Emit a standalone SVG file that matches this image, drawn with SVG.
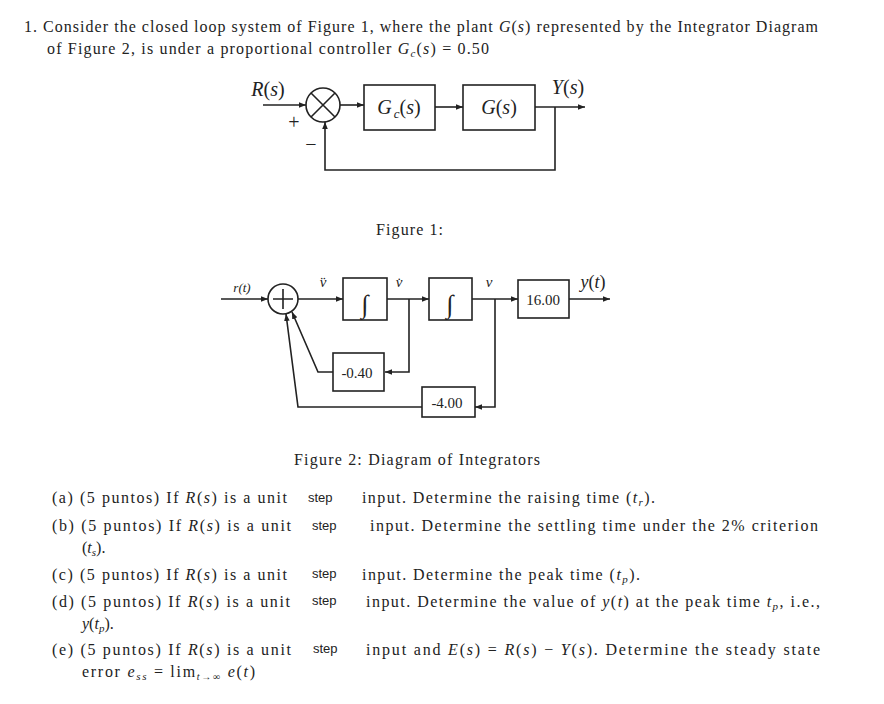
<svg xmlns="http://www.w3.org/2000/svg" width="884" height="704" viewBox="0 0 884 704">
<defs>
<marker id="ar" viewBox="0 0 10 10" refX="10" refY="5" markerWidth="7" markerHeight="7" orient="auto" markerUnits="userSpaceOnUse"><path d="M0,1 L10,5 L0,9 z" fill="#222"/></marker>
<style>
text{font-family:"Liberation Serif",serif;fill:#222}
.t{font-size:16px}
.s{font-family:"Liberation Sans",sans-serif;font-size:13px}
.b{fill:#fff;stroke:#222;stroke-width:1.6}
.l{fill:none;stroke:#222;stroke-width:1.6}
.a{marker-end:url(#ar)}
</style>
</defs>
<rect width="884" height="704" fill="#fff"/>
<text class="t" x="24" y="32" textLength="794">1.  Consider the closed loop system of Figure 1, where the plant <tspan font-style="italic">G</tspan>(<tspan font-style="italic">s</tspan>) represented by the Integrator Diagram</text>
<text class="t" x="47" y="54" textLength="442">of Figure 2, is under a proportional controller <tspan font-style="italic">G<tspan font-size="11" dy="3">c</tspan></tspan><tspan dy="-3">(</tspan><tspan font-style="italic">s</tspan>) = 0.50</text>

<g id="fig1">
<g id="sum1"><circle class="b" cx="323" cy="105" r="17"/><path class="l" d="M311,93 L335,117 M335,93 L311,117"/></g>
<g id="gc"><rect class="b" x="364" y="85" width="71" height="45"/><text x="399" y="114" font-size="20" text-anchor="middle" font-style="italic">G<tspan font-size="13" dy="4" dx="2">c</tspan><tspan dy="-4" font-style="normal">(</tspan>s<tspan font-style="normal">)</tspan></text></g>
<g id="g"><rect class="b" x="463" y="85" width="72" height="45"/><text x="499" y="114" font-size="20" text-anchor="middle"><tspan font-style="italic">G</tspan>(<tspan font-style="italic">s</tspan>)</text></g>
<text x="268" y="96" font-size="20" text-anchor="middle"><tspan font-style="italic">R</tspan>(<tspan font-style="italic">s</tspan>)</text>
<text x="568" y="94" font-size="20" text-anchor="middle"><tspan font-style="italic">Y</tspan>(<tspan font-style="italic">s</tspan>)</text>
<text x="294" y="129" font-size="20" text-anchor="middle">+</text>
<text x="311" y="151" font-size="20" text-anchor="middle">−</text>
</g>

<g id="fig2">
<g id="sum2"><circle class="b" cx="283" cy="299" r="15"/><path class="l" d="M273,299 H293 M283,289 V309" stroke-width="2.2"/></g>
<g id="int1"><rect class="b" x="343" y="278" width="44" height="42"/><text x="365" y="313" font-size="26" text-anchor="middle" font-style="italic">∫</text></g>
<g id="int2"><rect class="b" x="429" y="278" width="43" height="42"/><text x="450" y="313" font-size="26" text-anchor="middle" font-style="italic">∫</text></g>
<g id="k16"><rect class="b" x="518" y="280" width="51" height="38"/><text x="543" y="305" font-size="15" text-anchor="middle">16.00</text></g>
<g id="k04"><rect class="b" x="333" y="353" width="51" height="38"/><text x="357" y="378" font-size="15" text-anchor="middle">-0.40</text></g>
<g id="k4"><rect class="b" x="422" y="387" width="53" height="30"/><text x="447" y="408" font-size="15" text-anchor="middle">-4.00</text></g>
<text x="242" y="292" font-size="13" text-anchor="middle" font-style="italic">r(t)</text>
<text x="323" y="287" font-size="15" text-anchor="middle" font-style="italic">v̈</text>
<text x="399" y="287" font-size="15" text-anchor="middle" font-style="italic">v̇</text>
<text x="489" y="287" font-size="15" text-anchor="middle" font-style="italic">v</text>
<text x="593" y="288" font-size="18" text-anchor="middle"><tspan font-style="italic">y</tspan>(<tspan font-style="italic">t</tspan>)</text>
</g>

<g id="connectors">
<path class="l a" d="M263,105 H306"/>
<path class="l a" d="M340,105 H364"/>
<path class="l a" d="M435,107 H463"/>
<path class="l a" d="M535,107 H585"/>
<path class="l a" d="M555,107 V170 H325 V122"/>
<path class="l a" d="M221,299 H268"/>
<path class="l a" d="M298,299 H343"/>
<path class="l a" d="M387,299 H429"/>
<path class="l a" d="M472,299 H518"/>
<path class="l a" d="M569,299 H610"/>
<path class="l a" d="M409,299 V372 H385"/>
<path class="l a" d="M333,372 H318 L292,312"/>
<path class="l a" d="M495,299 V407 H475"/>
<path class="l a" d="M422,407 H298 L286,314"/>
</g>

<text class="t" x="376" y="235" textLength="67">Figure 1:</text>
<text class="t" x="294" y="465" textLength="246">Figure 2: Diagram of Integrators</text>

<text class="t" x="52" y="503" textLength="235">(a)  (5 puntos)  If <tspan font-style="italic">R</tspan>(<tspan font-style="italic">s</tspan>) is a unit</text>
<text class="s" x="308" y="502">step</text>
<text class="t" x="362" y="503" textLength="293">input.  Determine the raising time (<tspan font-style="italic">t<tspan font-size="11" dy="3">r</tspan></tspan><tspan dy="-3">).</tspan></text>
<text class="t" x="52" y="531" textLength="239">(b)  (5 puntos)  If <tspan font-style="italic">R</tspan>(<tspan font-style="italic">s</tspan>) is a unit</text>
<text class="s" x="312" y="530">step</text>
<text class="t" x="370" y="531" textLength="448">input.  Determine the settling time under the 2% criterion</text>
<text class="t" x="82" y="553">(<tspan font-style="italic">t<tspan font-size="11" dy="3">s</tspan></tspan><tspan dy="-3">).</tspan></text>
<text class="t" x="52" y="580" textLength="235">(c)  (5 puntos)  If <tspan font-style="italic">R</tspan>(<tspan font-style="italic">s</tspan>) is a unit</text>
<text class="s" x="312" y="578">step</text>
<text class="t" x="362" y="580" textLength="278">input.  Determine the peak time (<tspan font-style="italic">t<tspan font-size="11" dy="3">p</tspan></tspan><tspan dy="-3">).</tspan></text>
<text class="t" x="52" y="607" textLength="238">(d)  (5 puntos)  If <tspan font-style="italic">R</tspan>(<tspan font-style="italic">s</tspan>) is a unit</text>
<text class="s" x="312" y="605">step</text>
<text class="t" x="366" y="607" textLength="454">input.  Determine the value of <tspan font-style="italic">y</tspan>(<tspan font-style="italic">t</tspan>) at the peak time <tspan font-style="italic">t<tspan font-size="11" dy="3">p</tspan></tspan><tspan dy="-3">, i.e.,</tspan></text>
<text class="t" x="82" y="629"><tspan font-style="italic">y</tspan>(<tspan font-style="italic">t<tspan font-size="11" dy="3">p</tspan></tspan><tspan dy="-3">).</tspan></text>
<text class="t" x="52" y="655" textLength="239">(e)  (5 puntos)  If <tspan font-style="italic">R</tspan>(<tspan font-style="italic">s</tspan>) is a unit</text>
<text class="s" x="313" y="653">step</text>
<text class="t" x="366" y="655" textLength="454">input and <tspan font-style="italic">E</tspan>(<tspan font-style="italic">s</tspan>) = <tspan font-style="italic">R</tspan>(<tspan font-style="italic">s</tspan>) − <tspan font-style="italic">Y</tspan>(<tspan font-style="italic">s</tspan>).  Determine the steady state</text>
<text class="t" x="82" y="677" textLength="173">error <tspan font-style="italic">e<tspan font-size="11" dy="3">ss</tspan></tspan><tspan dy="-3"> = lim</tspan><tspan font-size="10" dy="3"><tspan font-style="italic">t</tspan>→∞</tspan><tspan dy="-3"> </tspan><tspan font-style="italic">e</tspan>(<tspan font-style="italic">t</tspan>)</text>
</svg>
